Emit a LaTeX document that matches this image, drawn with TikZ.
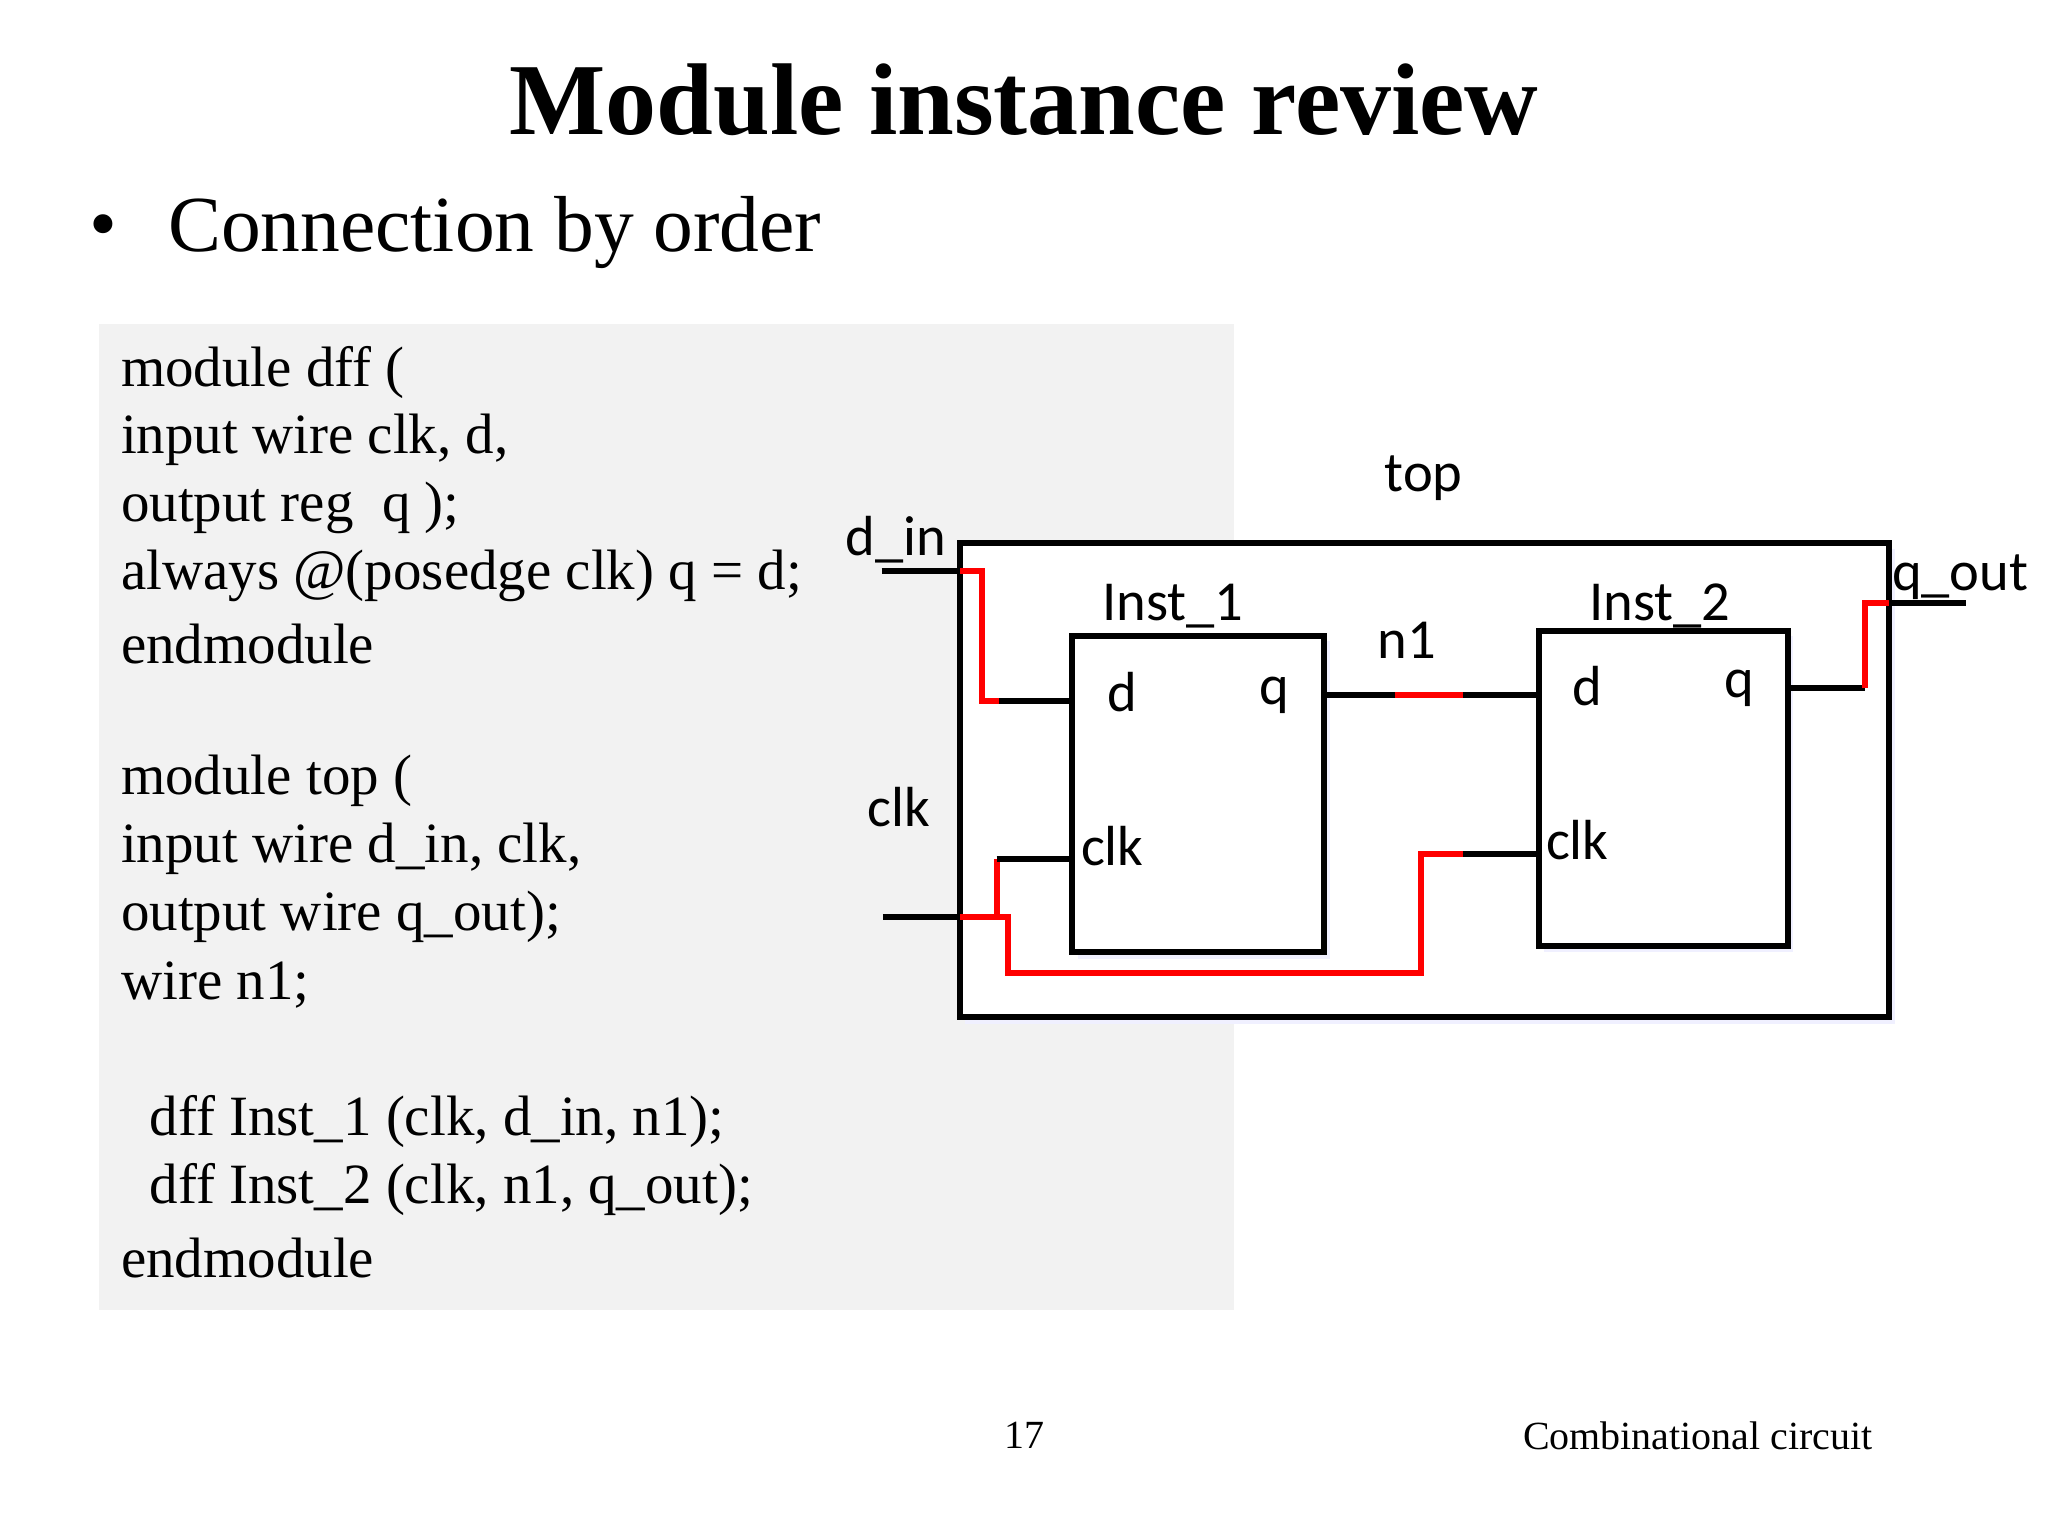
\documentclass[tikz,border=0pt]{standalone}
\usepackage{fontspec}
\setmainfont{Liberation Serif}
\newfontfamily\carfont{Carlito}
\begin{document}
\begin{tikzpicture}[x=0.01cm,y=-0.01cm,
  code/.style={anchor=west,inner sep=0pt,font=\fontsize{12.4}{14}\selectfont},
  lab/.style={inner sep=0pt,font=\carfont\fontsize{12.3}{14}\selectfont},
  blk/.style={draw=black,line width=1.3pt},
  w/.style={line width=1.3pt},
  rw/.style={line width=1.3pt,red}]
\useasboundingbox (0,0) rectangle (1568,1176);
\fill[white] (0,0) rectangle (1568,1176);
\node[inner sep=0pt,font=\bfseries\fontsize{22.2}{26}\selectfont] (title) at (784,76) {Module instance review};
\node[anchor=west,inner sep=0pt,font=\fontsize{17.3}{20}\selectfont] (bul) at (68,178) {\textbullet};
\node[anchor=west,inner sep=0pt,font=\fontsize{17.3}{20}\selectfont] (sub) at (128,178) {Connection by order};
\fill[black!5] (76,248) rectangle (945,1003);
\node[code] (c1) at (92,285) {module dff (};
\node[code] (c2) at (92,337) {input wire clk, d,};
\node[code] (c3) at (92,389) {output reg\ \ q );};
\node[code] (c4) at (92,441) {always @(posedge clk) q = d;};
\node[code] (c5) at (92,493) {endmodule};
\node[code] (c6) at (92,598) {module top (};
\node[code] (c7) at (92,650) {input wire d\_in, clk,};
\node[code] (c8) at (92,702) {output wire q\_out);};
\node[code] (c9) at (92,754) {wire n1;};
\node[code] (c10) at (114,859) {dff Inst\_1 (clk, d\_in, n1);};
\node[code] (c11) at (114,911) {dff Inst\_2 (clk, n1, q\_out);};
\node[code] (c12) at (92,963) {endmodule};
% boxes with light shadow
\fill[blue!6] (739,420) rectangle (1451,784);
\draw[blk,fill=white] (735,416) rectangle (1446,779);
\fill[blue!6] (825,491) rectangle (1018,734);
\draw[blk,fill=white] (821,487) rectangle (1014,729);
\fill[blue!6] (1182,487) rectangle (1373,729);
\draw[blk,fill=white] (1178,483) rectangle (1369,724);
% coordinates
\coordinate (din) at (675,437);
\coordinate (a1) at (735,437);
\coordinate (a2) at (765,537);
\coordinate (d1) at (821,537);
\coordinate (q1) at (1014,532);
\coordinate (n1a) at (1068,532);
\coordinate (n1b) at (1120,532);
\coordinate (d2) at (1178,532);
\coordinate (q2) at (1369,527);
\coordinate (qa) at (1428,527);
\coordinate (qb) at (1446,462);
\coordinate (qout) at (1505,462);
\coordinate (clkin) at (676,702);
\coordinate (ca) at (735,702);
\coordinate (cb) at (763,658);
\coordinate (ck1) at (821,658);
\coordinate (cc) at (1120,654);
\coordinate (ck2) at (1178,654);
\draw[w] (din) -- (a1);
\draw[rw] (a1) -- (752,437) |- (a2);
\draw[w] (a2) -- (d1);
\draw[w] (q1) -- (n1a);
\draw[rw] (n1a) -- (n1b);
\draw[w] (n1b) -- (d2);
\draw[w] (q2) -- (qa);
\draw[rw] (qa) |- (qb);
\draw[w] (qb) -- (qout);
\draw[w] (clkin) -- (ca);
\draw[rw] (ca) -- (772,702) -- (772,745) -- (1088,745) |- (cc);
\draw[rw] (763,702) -- (cb);
\draw[w] (cb) -- (ck1);
\draw[w] (cc) -- (ck2);
% labels
\node[lab] (ltop) at (1090,366) {top};
\node[lab] (ldin) at (686,413) {d\_in};
\node[lab] (lclk) at (688,618) {clk};
\node[lab] (li1) at (898,464) {Inst\_1};
\node[lab] (ln1) at (1077,490) {n1};
\node[lab] (li2) at (1271,464) {Inst\_2};
\node[lab,anchor=west] (lq) at (1448,442) {q\_out};
\node[lab] (d1l) at (859,530) {d};
\node[lab] (q1l) at (976,532) {q};
\node[lab,anchor=west] (c1l) at (827,648) {clk};
\node[lab] (d2l) at (1215,525) {d};
\node[lab] (q2l) at (1332,527) {q};
\node[lab,anchor=west] (c2l) at (1183,643) {clk};
\node[inner sep=0pt,font=\fontsize{8.7}{10}\selectfont] (pg) at (784,1099) {17};
\node[inner sep=0pt,font=\fontsize{8.7}{10}\selectfont] (ft) at (1300,1099) {Combinational circuit};
\end{tikzpicture}
\end{document}
